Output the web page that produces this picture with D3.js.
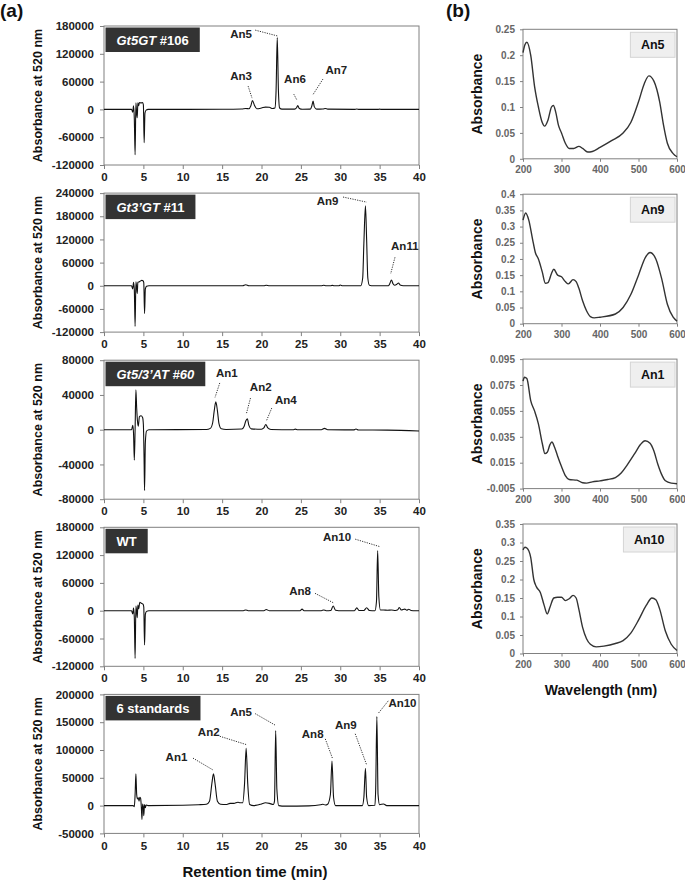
<!DOCTYPE html>
<html>
<head>
<meta charset="utf-8">
<script src="https://cdn.jsdelivr.net/npm/d3@7"></script>
<style>
  body { margin: 0; background: #fff; }
  text { font-family: "Liberation Sans", Arial, sans-serif; }
</style>
</head>
<body>
<svg id="fig" width="685" height="881"></svg>
<script>
// ---- (a) chromatograms: [retention time (min), absorbance at 520 nm]
const chromGt5GT = [[0,0],[3.5,0],[3.65,-6000],[3.75,8000],[3.85,-20000],[3.95,-98000],[4.05,14000],[4.15,-10000],[4.22,-18000],[4.3,14000],[4.4,8000],[4.5,15000],[4.7,14000],[4.9,15000],[5.0,10000],[5.1,-72000],[5.2,-8000],[5.35,-1500],[5.6,0],[10,0],[15,300],[17.5,1000],[18.0,2000],[18.4,1500],[18.65,8000],[18.85,19000],[19.1,9000],[19.4,1500],[20.0,3000],[20.5,5000],[21.0,4500],[21.4,2000],[21.7,3000],[21.85,40000],[22.0,155000],[22.15,40000],[22.3,3000],[22.6,500],[24.2,500],[24.45,3500],[24.6,8500],[24.8,2000],[25.2,200],[26.2,500],[26.4,8000],[26.55,18000],[26.7,6000],[27.0,500],[27.8,1000],[28.1,2000],[28.4,500],[31.8,0],[32.1,800],[32.4,0],[34.8,0],[35.0,700],[35.2,0],[40,0]];
const chromGt3GT = [[0,0],[3.5,0],[3.65,-8000],[3.75,9000],[3.85,-10000],[3.95,-105000],[4.05,10000],[4.15,-5000],[4.22,-20000],[4.3,9000],[4.45,10000],[4.6,12000],[4.8,14000],[4.95,13000],[5.05,8000],[5.15,-72000],[5.25,-8000],[5.4,-1500],[5.7,0],[17.6,0],[18.0,2500],[18.4,0],[20.3,0],[20.6,1500],[21,0],[27.6,0],[27.9,1200],[28.2,0],[28.8,0],[29.0,1000],[29.2,0],[29.8,0],[30.0,1800],[30.3,0],[32.6,0],[32.85,20000],[33.0,110000],[33.2,207000],[33.35,120000],[33.5,20000],[33.7,1500],[34.2,0],[36.1,0],[36.3,6000],[36.5,15000],[36.7,5000],[36.9,1500],[37.2,4000],[37.4,7000],[37.6,2000],[38,0],[40,0]];
const chromGt53AT = [[0,0],[3.5,0],[3.65,5000],[3.75,-4000],[3.85,-35000],[3.95,0],[4.05,46000],[4.15,25000],[4.25,10000],[4.35,4000],[4.5,15000],[4.7,16000],[4.9,14000],[5.0,6000],[5.1,-40000],[5.15,-70000],[5.25,-15000],[5.4,-1500],[5.7,0],[13.0,200],[13.5,1500],[13.8,8000],[14.0,22000],[14.2,32000],[14.4,22000],[14.6,7000],[14.9,1000],[15.5,300],[17.5,800],[17.8,4000],[18.0,10000],[18.2,12500],[18.4,5000],[18.7,1000],[20.0,500],[20.3,2000],[20.55,6000],[20.8,2000],[21.2,300],[24.0,0],[24.3,700],[24.6,0],[27.6,0],[28.0,1500],[28.4,0],[31.7,-200],[32.0,800],[32.3,-300],[36,-500],[40,-1500]];
const chromWT = [[0,0],[3.5,0],[3.65,-7000],[3.75,6000],[3.85,-15000],[3.95,-103000],[4.05,10000],[4.15,-3000],[4.22,-15000],[4.3,12000],[4.4,4000],[4.55,18000],[4.75,16000],[4.95,14000],[5.05,8000],[5.15,-74000],[5.25,-8000],[5.4,-1500],[5.7,0],[17.7,0],[18.0,1500],[18.3,0],[20.3,0],[20.6,2500],[21.0,0],[24.9,0],[25.15,3500],[25.4,0],[27.6,0],[27.9,1500],[28.2,0],[28.8,500],[29.1,10000],[29.4,1000],[29.8,0],[31.8,0],[32.1,6000],[32.4,500],[33.0,500],[33.35,6500],[33.7,500],[34.4,0],[34.6,20000],[34.75,130000],[34.9,30000],[35.1,1500],[35.5,1500],[36.0,1000],[36.5,1500],[37.0,500],[37.3,2000],[37.5,7000],[37.75,1500],[38.2,3500],[38.45,1000],[38.7,3000],[39.0,500],[39.5,0],[40,0]];
const chromStd = [[0,0],[3.7,0],[3.85,-2000],[3.95,20000],[4.05,57000],[4.15,20000],[4.25,12000],[4.35,14000],[4.45,8000],[4.55,15000],[4.65,13000],[4.75,-5000],[4.82,-25000],[4.9,3000],[5.0,-3000],[5.05,-18000],[5.15,2000],[5.25,-4000],[5.35,1000],[5.6,0],[10,500],[12,1500],[13.0,2500],[13.4,8000],[13.7,40000],[13.9,57000],[14.1,40000],[14.4,8000],[14.8,2500],[15.5,2000],[16.0,4000],[16.5,4000],[17.0,6000],[17.3,5000],[17.6,5000],[17.85,40000],[18.05,103000],[18.25,40000],[18.5,2000],[19.0,0],[19.5,1000],[20.0,3000],[20.5,5000],[21.0,4000],[21.5,2000],[21.65,8000],[21.8,135000],[21.95,30000],[22.2,0],[23,-1000],[26,-500],[27.5,1500],[27.8,2500],[28.1,1000],[28.4,2500],[28.75,20000],[28.95,80000],[29.15,15000],[29.4,0],[32.8,0],[33.0,15000],[33.2,67000],[33.35,15000],[33.6,0],[34.4,500],[34.5,30000],[34.65,160000],[34.8,20000],[35.0,1500],[35.5,3000],[35.9,0],[40,0]];

const timeTicks = [0, 5, 10, 15, 20, 25, 30, 35, 40];
const yTicksGt5GT = [-120000, -60000, 0, 60000, 120000, 180000];
const yTicksGt3GT = [-120000, -60000, 0, 60000, 120000, 180000, 240000];
const yTicksGt53AT = [-80000, -40000, 0, 40000, 80000];
const yTicksWT = [-120000, -60000, 0, 60000, 120000, 180000];
const yTicksStd = [-50000, 0, 50000, 100000, 150000, 200000];

// peak labels: name, label position (t, v), leader line from (t1, v1) to (t2, v2)
const annGt5GT = [
  ["An3", 17.4, 71900, 18.3, 50300, 18.8, 24400],
  ["An5", 17.4, 162500, 19.2, 171100, 22.1, 158200],
  ["An6", 24.25, 65400, 24.1, 32900, 24.5, 20100],
  ["An7", 29.5, 84800, 27.8, 65400, 26.5, 30900]
];
const annGt3GT = [
  ["An9", 28.4, 221000, 30.35, 229800, 33.36, 216600],
  ["An11", 38.2, 102600, 36.95, 73700, 36.4, 30800]
];
const annGt53AT = [
  ["An1", 15.6, 65300, 14.7, 53800, 14.1, 37200],
  ["An2", 19.9, 48800, 18.6, 36400, 18.1, 19100],
  ["An4", 23.1, 34600, 21.3, 24900, 20.6, 9600]
];
const annWT = [
  ["An10", 29.6, 160300, 31.9, 154400, 34.96, 138600],
  ["An8", 24.9, 43300, 26.8, 37500, 29.1, 17300]
];
const annStd = [
  ["An1", 9.2, 88400, 11.3, 85400, 13.9, 63600],
  ["An2", 13.3, 132000, 14.7, 124700, 18.1, 109600],
  ["An5", 17.4, 168400, 19.2, 165400, 21.8, 144200],
  ["An8", 26.5, 129100, 28.1, 120000, 29.0, 85400],
  ["An9", 30.7, 146000, 31.9, 129100, 33.35, 73300],
  ["An10", 37.9, 184700, 36.1, 188400, 34.8, 165400]
];

// ---- (b) UV-Vis spectra: [wavelength (nm), absorbance]
const specAn5 = [[200,0.205],[205,0.22],[210,0.225],[220,0.2],[230,0.14],[240,0.1],[250,0.07],[256,0.063],[265,0.075],[274,0.1],[279,0.103],[285,0.09],[292,0.065],[300,0.05],[310,0.03],[320,0.02],[332,0.02],[345,0.024],[355,0.02],[368,0.013],[380,0.014],[400,0.022],[430,0.035],[460,0.05],[480,0.07],[500,0.11],[515,0.145],[527,0.16],[540,0.15],[555,0.11],[565,0.065],[575,0.03],[590,0.01],[600,0.004]];
const specAn9 = [[200,0.32],[207,0.342],[215,0.32],[225,0.26],[232,0.22],[240,0.2],[250,0.16],[258,0.125],[265,0.127],[274,0.155],[280,0.168],[290,0.15],[300,0.145],[310,0.13],[318,0.123],[330,0.136],[338,0.13],[345,0.11],[355,0.07],[365,0.04],[375,0.022],[385,0.018],[400,0.02],[440,0.03],[460,0.05],[480,0.09],[500,0.15],[518,0.205],[530,0.22],[545,0.2],[560,0.14],[575,0.06],[590,0.02],[600,0.008]];
const specAn1 = [[200,0.078],[204,0.081],[210,0.08],[220,0.063],[230,0.055],[240,0.045],[250,0.03],[257,0.022],[263,0.023],[270,0.029],[275,0.031],[282,0.027],[290,0.02],[300,0.012],[310,0.005],[320,0.002],[340,0.0015],[355,-0.0005],[365,-0.0008],[380,0.0002],[400,0.001],[420,0.002],[440,0.0035],[455,0.007],[470,0.013],[490,0.022],[505,0.029],[517,0.032],[530,0.03],[540,0.024],[550,0.014],[560,0.006],[570,0.001],[585,-0.0008],[600,-0.0012]];
const specAn10 = [[200,0.28],[205,0.287],[210,0.285],[220,0.26],[228,0.2],[235,0.18],[245,0.165],[255,0.13],[263,0.107],[270,0.125],[280,0.15],[290,0.152],[300,0.152],[310,0.143],[320,0.148],[330,0.157],[338,0.15],[345,0.12],[355,0.07],[365,0.04],[375,0.025],[390,0.018],[410,0.02],[440,0.027],[460,0.035],[480,0.055],[500,0.09],[520,0.13],[535,0.15],[545,0.145],[555,0.12],[570,0.06],[585,0.025],[600,0.008]];

const waveTicks = [200, 300, 400, 500, 600];
const absTicksAn5 = [0, 0.05, 0.1, 0.15, 0.2, 0.25];
const absTicksAn9 = [0, 0.05, 0.1, 0.15, 0.2, 0.25, 0.3, 0.35, 0.4];
const absTicksAn1 = [-0.005, 0.015, 0.035, 0.055, 0.075, 0.095];
const absTicksAn10 = [0, 0.05, 0.1, 0.15, 0.2, 0.25, 0.3, 0.35];

const svg = d3.select("#fig");

// ---------- panel (a) ----------
const leftPanels = [
  { data: chromGt5GT, ticks: yTicksGt5GT, ann: annGt5GT, label: [["Gt5GT", true], [" #106", false]] },
  { data: chromGt3GT, ticks: yTicksGt3GT, ann: annGt3GT, label: [["Gt3\u2019GT", true], [" #11", false]] },
  { data: chromGt53AT, ticks: yTicksGt53AT, ann: annGt53AT, label: [["Gt5/3\u2019AT #60", true]] },
  { data: chromWT, ticks: yTicksWT, ann: annWT, label: [["WT", false]] },
  { data: chromStd, ticks: yTicksStd, ann: annStd, label: [["6 standards", false]] }
];

const x = d3.scaleLinear().domain([0, 40]).range([104, 419]);
const panelH = 139;

leftPanels.forEach((p, i) => {
  const top = 26 + i * 167.1;
  const y = d3.scaleLinear()
    .domain([p.ticks[0], p.ticks[p.ticks.length - 1]])
    .range([top + panelH, top]);

  const g = svg.append("g");

  const yAxis = g.append("g")
    .attr("transform", "translate(104,0)")
    .call(d3.axisLeft(y).tickValues(p.ticks).tickSize(4).tickPadding(6).tickFormat(d => String(d)));
  const xAxis = g.append("g")
    .attr("transform", `translate(0,${top + panelH})`)
    .call(d3.axisBottom(x).tickValues(timeTicks).tickSize(4).tickPadding(4).tickFormat(d => String(d)));
  [yAxis, xAxis].forEach(a => {
    a.select(".domain").remove();
    a.selectAll("line").attr("stroke", "#808080");
    a.selectAll("text")
      .attr("font-family", "Liberation Sans, Arial, sans-serif")
      .attr("font-size", 11.5)
      .attr("font-weight", "bold")
      .attr("fill", "#222");
  });

  g.append("rect")
    .attr("x", 104).attr("y", top)
    .attr("width", 315).attr("height", panelH)
    .attr("fill", "none")
    .attr("stroke", "#808080");

  g.append("path")
    .datum(p.data)
    .attr("d", d3.line().x(d => x(d[0])).y(d => y(d[1])).curve(d3.curveMonotoneX))
    .attr("fill", "none")
    .attr("stroke", "#111")
    .attr("stroke-width", 1.1);

  g.append("text")
    .attr("transform", `translate(42,${top + panelH / 2}) rotate(-90)`)
    .attr("text-anchor", "middle")
    .attr("font-size", 12.5)
    .attr("font-weight", "bold")
    .attr("fill", "#111")
    .text("Absorbance at 520 nm");

  // sample label box
  const box = g.append("rect")
    .attr("x", 105.5).attr("y", top + 1.5)
    .attr("height", 24.5)
    .attr("fill", "#333");
  const lab = g.append("text")
    .attr("x", 116.5)
    .attr("y", top + 18.5)
    .attr("font-size", 13)
    .attr("font-weight", "bold")
    .attr("fill", "#fff");
  p.label.forEach(s => {
    lab.append("tspan").attr("font-style", s[1] ? "italic" : "normal").text(s[0]);
  });
  box.attr("width", lab.node().getComputedTextLength() + 22);

  // peak annotations
  g.selectAll(".ann-line")
    .data(p.ann)
    .enter()
    .append("line")
    .attr("x1", d => x(d[3])).attr("y1", d => y(d[4]))
    .attr("x2", d => x(d[5])).attr("y2", d => y(d[6]))
    .attr("stroke", "#333")
    .attr("stroke-width", 1)
    .attr("stroke-dasharray", "1.2,1.2");

  g.selectAll(".ann-text")
    .data(p.ann)
    .enter()
    .append("text")
    .attr("x", d => x(d[1]))
    .attr("y", d => y(d[2]))
    .attr("dy", "0.36em")
    .attr("text-anchor", "middle")
    .attr("font-size", 11.5)
    .attr("font-weight", "bold")
    .attr("fill", "#222")
    .text(d => d[0]);
});

svg.append("text")
  .attr("x", 255).attr("y", 877)
  .attr("text-anchor", "middle")
  .attr("font-size", 15)
  .attr("font-weight", "bold")
  .attr("fill", "#111")
  .text("Retention time (min)");

// ---------- panel (b) ----------
const rightPanels = [
  { data: specAn5, ticks: absTicksAn5, name: "An5" },
  { data: specAn9, ticks: absTicksAn9, name: "An9" },
  { data: specAn1, ticks: absTicksAn1, name: "An1" },
  { data: specAn10, ticks: absTicksAn10, name: "An10" }
];

const xw = d3.scaleLinear().domain([200, 600]).range([523, 677]);
const specH = 129.5;

rightPanels.forEach((p, i) => {
  const top = 29.3 + i * 164.9;
  const y = d3.scaleLinear()
    .domain([p.ticks[0], p.ticks[p.ticks.length - 1]])
    .range([top + specH, top]);

  const g = svg.append("g");

  const yAxis = g.append("g")
    .attr("transform", "translate(523,0)")
    .call(d3.axisLeft(y).tickValues(p.ticks).tickSize(3).tickPadding(5).tickFormat(d => String(d)));
  const xAxis = g.append("g")
    .attr("transform", `translate(0,${top + specH})`)
    .call(d3.axisBottom(xw).tickValues(waveTicks).tickSize(3).tickPadding(4).tickFormat(d => String(d)));
  [yAxis, xAxis].forEach(a => {
    a.select(".domain").remove();
    a.selectAll("line").attr("stroke", "#808080");
    a.selectAll("text")
      .attr("font-family", "Liberation Sans, Arial, sans-serif")
      .attr("font-size", 10)
      .attr("font-weight", "bold")
      .attr("fill", "#666");
  });

  g.append("rect")
    .attr("x", 523).attr("y", top)
    .attr("width", 154).attr("height", specH)
    .attr("fill", "none")
    .attr("stroke", "#808080");

  g.append("path")
    .datum(p.data)
    .attr("d", d3.line().x(d => xw(d[0])).y(d => y(d[1])).curve(d3.curveMonotoneX))
    .attr("fill", "none")
    .attr("stroke", "#333")
    .attr("stroke-width", 1.4);

  g.append("text")
    .attr("transform", `translate(482,${top + specH / 2}) rotate(-90)`)
    .attr("text-anchor", "middle")
    .attr("font-size", 14)
    .attr("font-weight", "bold")
    .attr("fill", "#111")
    .text("Absorbance");

  const box = g.append("rect")
    .attr("y", top + 3)
    .attr("height", 25)
    .attr("fill", "#efefef")
    .attr("stroke", "#d4d4d4");
  const lab = g.append("text")
    .attr("y", top + 19.5)
    .attr("text-anchor", "middle")
    .attr("font-size", 12.5)
    .attr("font-weight", "bold")
    .attr("fill", "#111")
    .text(p.name);
  const bw = lab.node().getComputedTextLength() + 21;
  lab.attr("x", 675 - bw / 2);
  box.attr("x", 675 - bw).attr("width", bw);
});

svg.append("text")
  .attr("x", 601).attr("y", 695)
  .attr("text-anchor", "middle")
  .attr("font-size", 14)
  .attr("font-weight", "bold")
  .attr("fill", "#111")
  .text("Wavelength (nm)");

svg.append("text")
  .attr("x", 0).attr("y", 17)
  .attr("font-size", 19)
  .attr("font-weight", "bold")
  .attr("fill", "#111")
  .text("(a)");

svg.append("text")
  .attr("x", 446).attr("y", 17)
  .attr("font-size", 19)
  .attr("font-weight", "bold")
  .attr("fill", "#111")
  .text("(b)");
</script>
</body>
</html>
